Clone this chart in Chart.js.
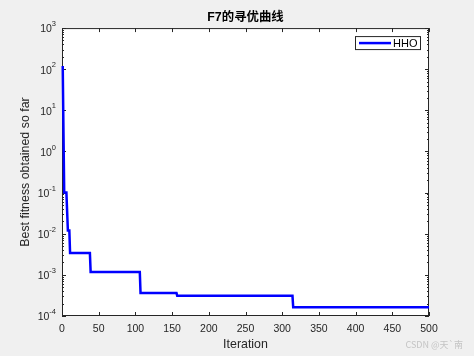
<!DOCTYPE html>
<html><head><meta charset="utf-8">
<script src="https://cdn.jsdelivr.net/npm/chart.js@4.4.1/dist/chart.umd.min.js"></script>
<style>html,body{margin:0;padding:0;background:#f0f0f0;overflow:hidden}#wrap{width:474px;height:356px}</style>
</head><body><div id="wrap"><canvas id="c" width="474" height="356"></canvas></div>
<script>
const chartTitle = 'F7的寻优曲线';
const seriesName = 'HHO';
const xAxisLabel = 'Iteration';
const yAxisLabel = 'Best fitness obtained so far';
const watermark = 'CSDN @天`南';
const iterations = [1, 2, 3, 6, 8, 10, 11, 38, 39, 106, 107, 156, 157, 314, 315, 500];
const bestFitness = [120, 3, 0.1, 0.1, 0.012, 0.012, 0.0034, 0.0034, 0.00118, 0.00118, 0.00036, 0.00036, 0.00031, 0.00031, 0.000163, 0.000163];
const xTicks = [0, 50, 100, 150, 200, 250, 300, 350, 400, 450, 500];
const yTicks = [1e-4, 1e-3, 1e-2, 1e-1, 1e0, 1e1, 1e2, 1e3];
const yTickBase = '10';
const yTickExponents = ['-4', '-3', '-2', '-1', '0', '1', '2', '3'];

const FONT = '"Liberation Sans", Arial, Helvetica, "Noto Sans CJK SC", sans-serif';
const AXC = '#262626';
Chart.defaults.font.family = FONT;

const matlabAxes = {
  id: 'matlabAxes',
  beforeDraw(chart) {
    const {ctx, chartArea: a} = chart;
    ctx.save();
    ctx.fillStyle = '#ffffff';
    ctx.fillRect(a.left, a.top, a.right - a.left, a.bottom - a.top);
    ctx.restore();
  },
  beforeDatasetsDraw(chart) {
    const {ctx, chartArea: a, scales: {x, y}} = chart;
    ctx.save();
    ctx.strokeStyle = AXC;
    ctx.lineWidth = 1;
    ctx.strokeRect(a.left + 0.5, a.top + 0.5, a.right - a.left - 1, a.bottom - a.top - 1);
    ctx.beginPath();
    xTicks.forEach(v => {
      const px = Math.round(x.getPixelForValue(v)) + 0.5;
      ctx.moveTo(px, a.bottom); ctx.lineTo(px, a.bottom - 4);
      ctx.moveTo(px, a.top); ctx.lineTo(px, a.top + 4);
    });
    yTicks.forEach((v, i) => {
      const py = Math.round(y.getPixelForValue(v)) + 0.5;
      ctx.moveTo(a.left, py); ctx.lineTo(a.left + 4, py);
      ctx.moveTo(a.right, py); ctx.lineTo(a.right - 4, py);
      if (i < yTicks.length - 1) {
        for (let m = 2; m <= 9; m++) {
          const pm = Math.round(y.getPixelForValue(v * m)) + 0.5;
          ctx.moveTo(a.left, pm); ctx.lineTo(a.left + 2, pm);
          ctx.moveTo(a.right, pm); ctx.lineTo(a.right - 2, pm);
        }
      }
    });
    ctx.stroke();
    ctx.restore();
  },
  afterDraw(chart) {
    const {ctx, chartArea: a, scales: {y}} = chart;
    ctx.save();
    // y tick labels with superscript exponents
    ctx.fillStyle = AXC;
    ctx.textAlign = 'right';
    ctx.textBaseline = 'middle';
    yTicks.forEach((v, i) => {
      const py = y.getPixelForValue(v);
      const xr = a.left - 6;
      ctx.font = '7.5px ' + FONT;
      const ew = ctx.measureText(yTickExponents[i]).width;
      ctx.fillText(yTickExponents[i], xr, py - 4);
      ctx.font = '10.5px ' + FONT;
      ctx.fillText(yTickBase, xr - ew, py + 1.5);
    });

    // legend box (top-right, inside axes)
    const ds = chart.data.datasets[0];
    const bw = 66, bh = 14;
    const bx = a.right - 8 - bw, by = a.top + 8;
    ctx.fillStyle = '#ffffff';
    ctx.fillRect(bx, by, bw, bh);
    ctx.strokeStyle = AXC;
    ctx.lineWidth = 1;
    ctx.strokeRect(bx + 0.5, by + 0.5, bw - 1, bh - 1);
    ctx.strokeStyle = ds.borderColor;
    ctx.lineWidth = 2.5;
    ctx.beginPath();
    ctx.moveTo(bx + 4, by + bh / 2); ctx.lineTo(bx + 36, by + bh / 2);
    ctx.stroke();
    ctx.fillStyle = '#000';
    ctx.font = '11px ' + FONT;
    ctx.textBaseline = 'middle';
    ctx.textAlign = 'left';
    ctx.fillText(ds.label, bx + 38, by + bh / 2 + 0.5);

    // watermark
    ctx.fillStyle = '#c4c4c4';
    ctx.font = '9px "Noto Sans CJK SC", sans-serif';
    ctx.textAlign = 'right';
    ctx.fillText(watermark, 463, 345);
    ctx.restore();
  }
};

new Chart(document.getElementById('c'), {
  type: 'line',
  data: {
    datasets: [{
      label: seriesName,
      data: iterations.map((it, i) => ({x: it, y: bestFitness[i]})),
      borderColor: '#0000ff',
      borderWidth: 2.5,
      pointRadius: 0,
      fill: false,
      tension: 0,
      clip: 4
    }]
  },
  options: {
    responsive: false,
    animation: false,
    devicePixelRatio: 1,
    layout: {padding: {left: 0, right: 45, top: 0, bottom: 0}},
    plugins: {
      legend: {display: false},
      tooltip: {enabled: false},
      title: {
        display: true, text: chartTitle, fullSize: false, color: '#000',
        font: {size: 12.4, weight: 'bold', family: FONT},
        padding: {top: 10, bottom: 3.2}
      }
    },
    scales: {
      x: {
        type: 'linear', min: 0, max: 500,
        afterBuildTicks: s => { s.ticks = xTicks.map(v => ({value: v})); },
        afterFit: s => { s.height = 40; },
        grid: {display: false, drawTicks: false},
        border: {display: false},
        ticks: {color: AXC, font: {size: 10.5}, padding: 7, maxRotation: 0, autoSkip: false},
        title: {display: true, text: xAxisLabel, color: AXC, font: {size: 12.4}, padding: {top: 0, bottom: 3.8}}
      },
      y: {
        type: 'logarithmic', min: 1e-4, max: 1e3,
        afterBuildTicks: s => { s.ticks = yTicks.map(v => ({value: v})); },
        afterFit: s => { s.width = 62; },
        grid: {display: false, drawTicks: false},
        border: {display: false},
        ticks: {display: false},
        title: {display: true, text: yAxisLabel, color: AXC, font: {size: 12.4}, padding: {top: 17.8, bottom: 0}}
      }
    }
  },
  plugins: [matlabAxes]
});
</script></body></html>
